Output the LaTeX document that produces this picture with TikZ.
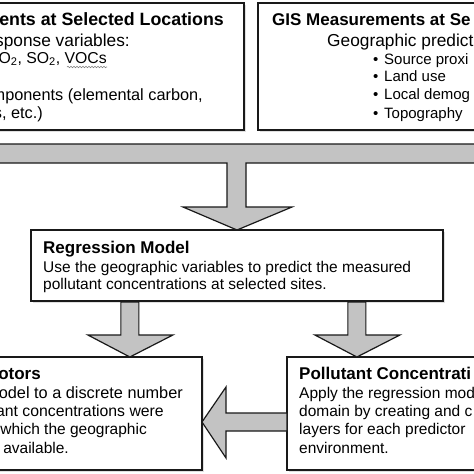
\documentclass[tikz,border=0pt]{standalone}
\usepackage{fontspec}
\setmainfont{Liberation Sans}
\usetikzlibrary{calc,shadows,decorations.pathmorphing}
\definecolor{arrowgray}{RGB}{195,195,195}
\definecolor{edgegray}{RGB}{25,25,25}
\begin{document}
\begin{tikzpicture}[x=1pt,y=-1pt,
  box/.style={draw=edgegray, line width=1.6pt, fill=white, inner sep=0pt, outer sep=0pt,
    drop shadow={shadow xshift=1.5pt, shadow yshift=-1.5pt, opacity=0.25}},
  blockarrow/.style={draw=edgegray, line width=1.2pt, fill=arrowgray, line join=miter},
  ttl/.style={font=\fontsize{17}{20}\selectfont\bfseries, inner sep=0pt},
  bigttl/.style={font=\fontsize{17.8}{20}\selectfont\bfseries, inner sep=0pt},
  txt/.style={font=\fontsize{15.5}{18}\selectfont, inner sep=0pt},
  semitxt/.style={font=\fontsize{15.8}{18}\selectfont, inner sep=0pt},
  midtxt/.style={font=\fontsize{16.3}{18}\selectfont, inner sep=0pt},
  gtxt/.style={font=\fontsize{17.3}{20}\selectfont, inner sep=0pt},
  btxt/.style={font=\fontsize{15}{18}\selectfont, inner sep=0pt},
]
\useasboundingbox (0,0) rectangle (474,474);
\clip (0,0) rectangle (474,474);
\fill[white] (0,0) rectangle (474,474);

% boxes
\node[box, anchor=north west, minimum width=254pt, minimum height=127pt] (tl) at (-10,3) {};
\node[box, anchor=north west, minimum width=230pt, minimum height=127pt] (tr) at (258,3) {};
\node[box, anchor=north west, minimum width=412pt, minimum height=71pt] (reg) at (31,230) {};
\node[box, anchor=north west, minimum width=212pt, minimum height=113pt] (bl) at (-10,357) {};
\node[box, anchor=north west, minimum width=200pt, minimum height=113pt] (br) at (287,357) {};

% top-left text
\node[bigttl, anchor=base east] (tlT) at (224,25) {ments at Selected Locations};
\node[gtxt, anchor=base east] (tlA) at (130,46) {sponse variables:};
\node[semitxt, anchor=base east] (tlB) at (107,63) {O\textsubscript{2}, SO\textsubscript{2}, VOCs};
\node[midtxt, anchor=base east] (tlC) at (203,100) {mponents (elemental carbon,};
\node[midtxt, anchor=base east] (tlD) at (43,118) {s, etc.)};
\draw[decorate, decoration={snake, amplitude=0.7pt, segment length=3pt}, gray, line width=0.6pt]
  ($(tlB.base east)+(-40,4)$) -- ($(tlB.base east)+(0,4)$);

% top-right text
\node[ttl, anchor=base west] (trT) at (272,25) {GIS Measurements at Se};
\node[gtxt, anchor=base west] (trA) at (327,46) {Geographic predict};
\foreach \y/\t/\n in {64/Source proxi/1, 81/Land use/2, 99/Local demog/3, 118/Topography/4}{
  \node[btxt, anchor=base west] (trb\n) at (373,\y) {\textbullet};
  \node[btxt, anchor=base west] (trt\n) at (384,\y) {\t};
}

% regression text
\node[ttl, anchor=base west] (regT) at (43,253) {Regression Model};
\node[txt, anchor=base west] (regA) at (43,272) {Use the geographic variables to predict the measured};
\node[txt, anchor=base west] (regB) at (43,289) {pollutant concentrations at selected sites.};

% bottom-left text
\node[ttl, anchor=base east] (blT) at (41,379) {otors};
\node[midtxt, anchor=base east] (blA) at (183,398) {model to a discrete number};
\node[semitxt, anchor=base east] (blB) at (164,416) {ant concentrations were};
\node[txt, anchor=base east] (blC) at (147,434) {which the geographic};
\node[txt, anchor=base east] (blD) at (69,453) {available.};

% bottom-right text
\node[ttl, anchor=base west] (brT) at (299,379) {Pollutant Concentrati};
\node[txt, anchor=base west] (brA) at (299,398) {Apply the regression mod};
\node[txt, anchor=base west] (brB) at (299,416) {domain by creating and c};
\node[txt, anchor=base west] (brC) at (299,434) {layers for each predictor};
\node[txt, anchor=base west] (brD) at (299,453) {environment.};

% block arrows
\draw[blockarrow, shift={(reg.north)}]
  (-260,-86) -- (260,-86) -- (260,-67) -- (9,-67) -- (9,-23) -- (55,-23) -- (0,0)
  -- (-54,-23) -- (-10,-23) -- (-10,-67) -- (-260,-67) -- cycle;
\coordinate (xL) at ($(reg.south west)!0.24!(reg.south east)$);
\coordinate (xR) at ($(reg.south west)!0.791!(reg.south east)$);
\coordinate (tipL) at (xL |- bl.north);
\coordinate (tipR) at (xR |- br.north);
\draw[blockarrow, shift={(tipL)}]
  (-9,-55) -- (-9,-22) -- (-42,-22) -- (0,0) -- (43,-22) -- (9,-22) -- (9,-55) -- cycle;
\draw[blockarrow, shift={(tipR)}]
  (-9,-55) -- (-9,-22) -- (-42,-22) -- (0,0) -- (43,-22) -- (9,-22) -- (9,-55) -- cycle;
\coordinate (yH) at (0,422);
\coordinate (tipH) at (bl.east |- yH);
\draw[blockarrow, shift={(tipH)}]
  (0,0) -- (24,-35) -- (24,-9) -- (85,-9) -- (85,9) -- (24,9) -- (24,36) -- cycle;
\end{tikzpicture}
\end{document}
